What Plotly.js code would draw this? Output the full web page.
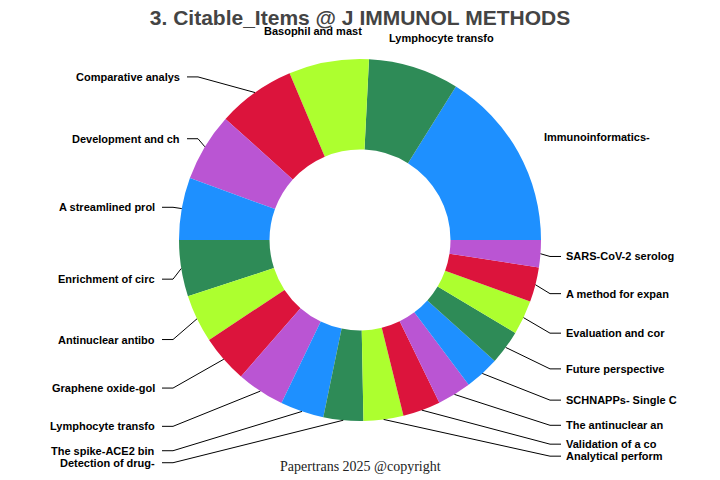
<!DOCTYPE html>
<html>
<head>
<meta charset="utf-8">
<script src="https://cdn.plot.ly/plotly-3.0.1.min.js"></script>
<style>
html, body { margin: 0; padding: 0; background: #fff; }
#chart { width: 720px; height: 480px; }
</style>
</head>
<body>
<div id="chart"></div>
<script>
// slice labels (titles cut to 18 chars, as on the chart), largest first
var labels = [
	'Immunoinformatics-', 'Lymphocyte transfo', 'Basophil and mast', 'Comparative analys',
	'Development and ch', 'A streamlined prol', 'Enrichment of circ', 'Antinuclear antibo',
	'Graphene oxide-gol', 'Lymphocyte transfo', 'The spike-ACE2 bin', 'Detection of drug-',
	'Analytical perform', 'Validation of a co', 'The antinuclear an', 'SCHNAPPs- Single C',
	'Future perspective', 'Evaluation and cor', 'A method for expan', 'SARS-CoV-2 serolog'
];
// citable items share
var values = [
	58.0, 29.15, 25.75, 25.1,
	22.0, 20.0, 18.1, 15.4,
	15.4, 15.4, 14.0, 12.8,
	12.8, 12.1, 10.9, 11.2,
	11.0, 11.0, 11.2, 8.7
];
var palette = ['#1E90FF', '#2E8B57', '#ADFF2F', '#DC143C', '#BA55D3'];

var W = 720, H = 480;
var CX = 360, CY = 240, R = 181;

function px(x){ return x / W; }
function py(y){ return 1 - y / H; }

var total = values.reduce(function(a, b){ return a + b; }, 0);
var colors = values.map(function(v, i){ return palette[i % palette.length]; });
// plotly keeps the first slice clockwise of 'rotation' when going counterclockwise,
// so this puts the first slice's far edge at 3 o'clock (like matplotlib)
var rotation = 90 - 360 * values[0] / total;

var labelFont = {family: 'Arial, "Liberation Sans", sans-serif', size: 11, color: '#000'};
var annotations = [];
var shapes = [];
var left = [], right = [];

var cum = 0;
values.forEach(function(v, i){
	var mid = (cum + v / 2) / total * 2 * Math.PI; // ccw from 3 o'clock
	cum += v;
	var c = Math.cos(mid), s = Math.sin(mid);
	if (i < 3){
		// big top slices: label just outside the wedge, no leader
		annotations.push({
			x: px(CX + 1.5 * R * c), y: py(CY - 1.17 * R * s), xref: 'paper', yref: 'paper',
			text: '<b>' + labels[i] + '</b>', showarrow: false,
			xanchor: 'center', yanchor: 'middle', font: labelFont
		});
		return;
	}
	var up = s > 0.3;
	var item = {i: i, p: [CX + R * c, CY - R * s], y: CY - (up ? 1.14 : 1.2) * R * s + (c < 0 ? 5 : 0), up: up};
	(c < 0 ? left : right).push(item);
});

function spread(list){
	list.sort(function(a, b){ return a.y - b.y; });
	for (var k = 1; k < list.length; k++){
		if (list[k].y < list[k - 1].y + 12) list[k].y = list[k - 1].y + 12;
	}
}
spread(left);
spread(right);

left.forEach(function(it){
	var xe = it.up ? CX - R + 2 : CX - R - 23;
	annotations.push({
		x: px(xe + 1), y: py(it.y), xref: 'paper', yref: 'paper',
		text: '<b>' + labels[it.i] + '</b>', showarrow: false,
		xanchor: 'right', yanchor: 'middle', font: labelFont
	});
	shapes.push({
		type: 'path', xref: 'paper', yref: 'paper',
		path: 'M' + px(it.p[0]) + ',' + py(it.p[1]) + ' L' + px(xe + 17) + ',' + py(it.y) + ' L' + px(xe + 6) + ',' + py(it.y),
		line: {color: '#000', width: 1}
	});
});
right.forEach(function(it){
	var xs = CX + R + 24;
	annotations.push({
		x: px(xs - 1), y: py(it.y), xref: 'paper', yref: 'paper',
		text: '<b>' + labels[it.i] + '</b>', showarrow: false,
		xanchor: 'left', yanchor: 'middle', font: labelFont
	});
	shapes.push({
		type: 'path', xref: 'paper', yref: 'paper',
		path: 'M' + px(it.p[0]) + ',' + py(it.p[1]) + ' L' + px(xs - 15) + ',' + py(it.y) + ' L' + px(xs - 4) + ',' + py(it.y),
		line: {color: '#000', width: 1}
	});
});

annotations.push({
	x: 0.5, y: py(466), xref: 'paper', yref: 'paper',
	text: 'Papertrans 2025 @copyright', showarrow: false,
	xanchor: 'center', yanchor: 'middle',
	font: {family: '"Times New Roman", "Liberation Serif", serif', size: 14, color: '#222'}
});

var data = [{
	type: 'pie',
	values: values,
	text: labels,
	hoverinfo: 'text+percent',
	textinfo: 'none',
	sort: false,
	direction: 'counterclockwise',
	rotation: rotation,
	hole: 0.5,
	marker: {colors: colors, line: {width: 0}},
	domain: {x: [px(CX - R), px(CX + R)], y: [py(CY + R), py(CY - R)]}
}];

var layout = {
	width: W, height: H,
	margin: {l: 0, r: 0, t: 0, b: 0},
	showlegend: false,
	paper_bgcolor: '#fff',
	title: {
		text: '<b>3. Citable_Items @ J IMMUNOL METHODS</b>',
		x: 0.5, xanchor: 'center', xref: 'paper',
		y: 1 - 18 / H, yanchor: 'middle', yref: 'container',
		font: {family: 'Arial, "Liberation Sans", sans-serif', size: 21, color: '#444'}
	},
	annotations: annotations,
	shapes: shapes
};

Plotly.newPlot('chart', data, layout, {displayModeBar: false, staticPlot: true});
</script>
</body>
</html>
